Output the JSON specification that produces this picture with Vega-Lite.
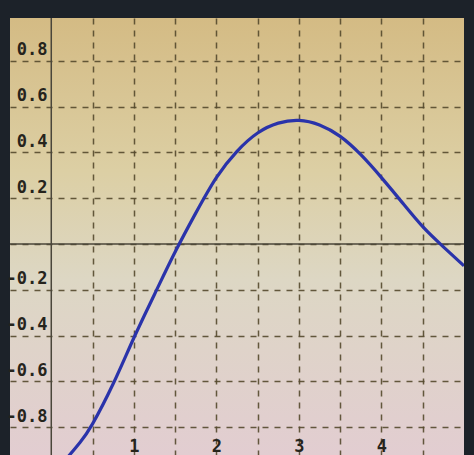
{
  "$schema": "https://vega.github.io/schema/vega-lite/v6.json",
  "width": 454,
  "height": 437,
  "autosize": {"type": "none"},
  "padding": {"left": 10, "top": 18, "right": 10, "bottom": 0},
  "background": "#1c2229",
  "config": {
    "view": {
      "stroke": null,
      "fill": {
        "gradient": "linear", "x1": 0, "y1": 0, "x2": 0, "y2": 1,
        "stops": [
          {"offset": 0, "color": "#d4bb84"},
          {"offset": 0.35, "color": "#dccfa4"},
          {"offset": 0.6, "color": "#ddd7c4"},
          {"offset": 1, "color": "#e2cdd1"}
        ]
      }
    }
  },
  "layer": [
    {
      "data": {"values": [{"v": 0}]},
      "mark": {"type": "rule", "color": "#4a463a", "strokeWidth": 1.5},
      "encoding": {"y": {"field": "v", "type": "quantitative", "scale": {"domain": [-0.921, 0.987], "nice": false, "zero": false}}}
    },
    {
      "data": {"values": [{"v": 0}]},
      "mark": {"type": "rule", "color": "#4a463a", "strokeWidth": 1.5},
      "encoding": {"x": {"field": "v", "type": "quantitative", "scale": {"domain": [-0.5, 5], "nice": false, "zero": false}}}
    },
    {
      "data": {
        "values": [
          {"x": 0.1, "y": -0.97},
          {"x": 0.2, "y": -0.93},
          {"x": 0.35, "y": -0.865},
          {"x": 0.5, "y": -0.785},
          {"x": 0.75, "y": -0.61},
          {"x": 1.0, "y": -0.41},
          {"x": 1.25, "y": -0.22},
          {"x": 1.5, "y": -0.035},
          {"x": 1.75, "y": 0.135},
          {"x": 2.0, "y": 0.29},
          {"x": 2.25, "y": 0.405},
          {"x": 2.5, "y": 0.485},
          {"x": 2.75, "y": 0.528},
          {"x": 3.0, "y": 0.54},
          {"x": 3.25, "y": 0.52},
          {"x": 3.5, "y": 0.47},
          {"x": 3.75, "y": 0.39},
          {"x": 4.0, "y": 0.29},
          {"x": 4.25, "y": 0.182},
          {"x": 4.5, "y": 0.076},
          {"x": 4.75, "y": -0.012},
          {"x": 5.0, "y": -0.095}
        ]
      },
      "mark": {"type": "line", "color": "#2a33aa", "strokeWidth": 3.2, "interpolate": "natural", "clip": true},
      "encoding": {
        "x": {
          "field": "x", "type": "quantitative",
          "scale": {"domain": [-0.5, 5], "nice": false, "zero": false},
          "axis": {
            "title": null, "orient": "bottom", "offset": -20,
            "values": [0.5, 1, 1.5, 2, 2.5, 3, 3.5, 4, 4.5],
            "labelExpr": "datum.value % 1 == 0 ? format(datum.value, 'd') : ''",
            "labelOverlap": false, "labelFlush": false,
            "domain": false, "ticks": false, "labelPadding": 3,
            "labelFont": "DejaVu Sans Mono", "labelFontSize": 17, "labelFontWeight": "bold", "labelColor": "#26241c",
            "grid": true, "gridColor": "#54492c", "gridDash": [6, 6], "gridWidth": 1.5, "gridOpacity": 0.9
          }
        },
        "y": {
          "field": "y", "type": "quantitative",
          "scale": {"domain": [-0.921, 0.987], "nice": false, "zero": false},
          "axis": {
            "title": null, "orient": "left", "offset": -41,
            "values": [-0.8, -0.6, -0.4, -0.2, 0, 0.2, 0.4, 0.6, 0.8],
            "labelExpr": "datum.value == 0 ? '' : (datum.value < 0 ? '-' : '') + format(abs(datum.value), '.1f')",
            "labelOverlap": false, "labelFlush": false,
            "labelBaseline": "bottom", "labelOffset": -2,
            "domain": false, "ticks": false, "labelPadding": 4,
            "labelFont": "DejaVu Sans Mono", "labelFontSize": 17, "labelFontWeight": "bold", "labelColor": "#26241c",
            "grid": true, "gridColor": "#54492c", "gridDash": [6, 6], "gridWidth": 1.5, "gridOpacity": 0.9
          }
        }
      }
    }
  ]
}
